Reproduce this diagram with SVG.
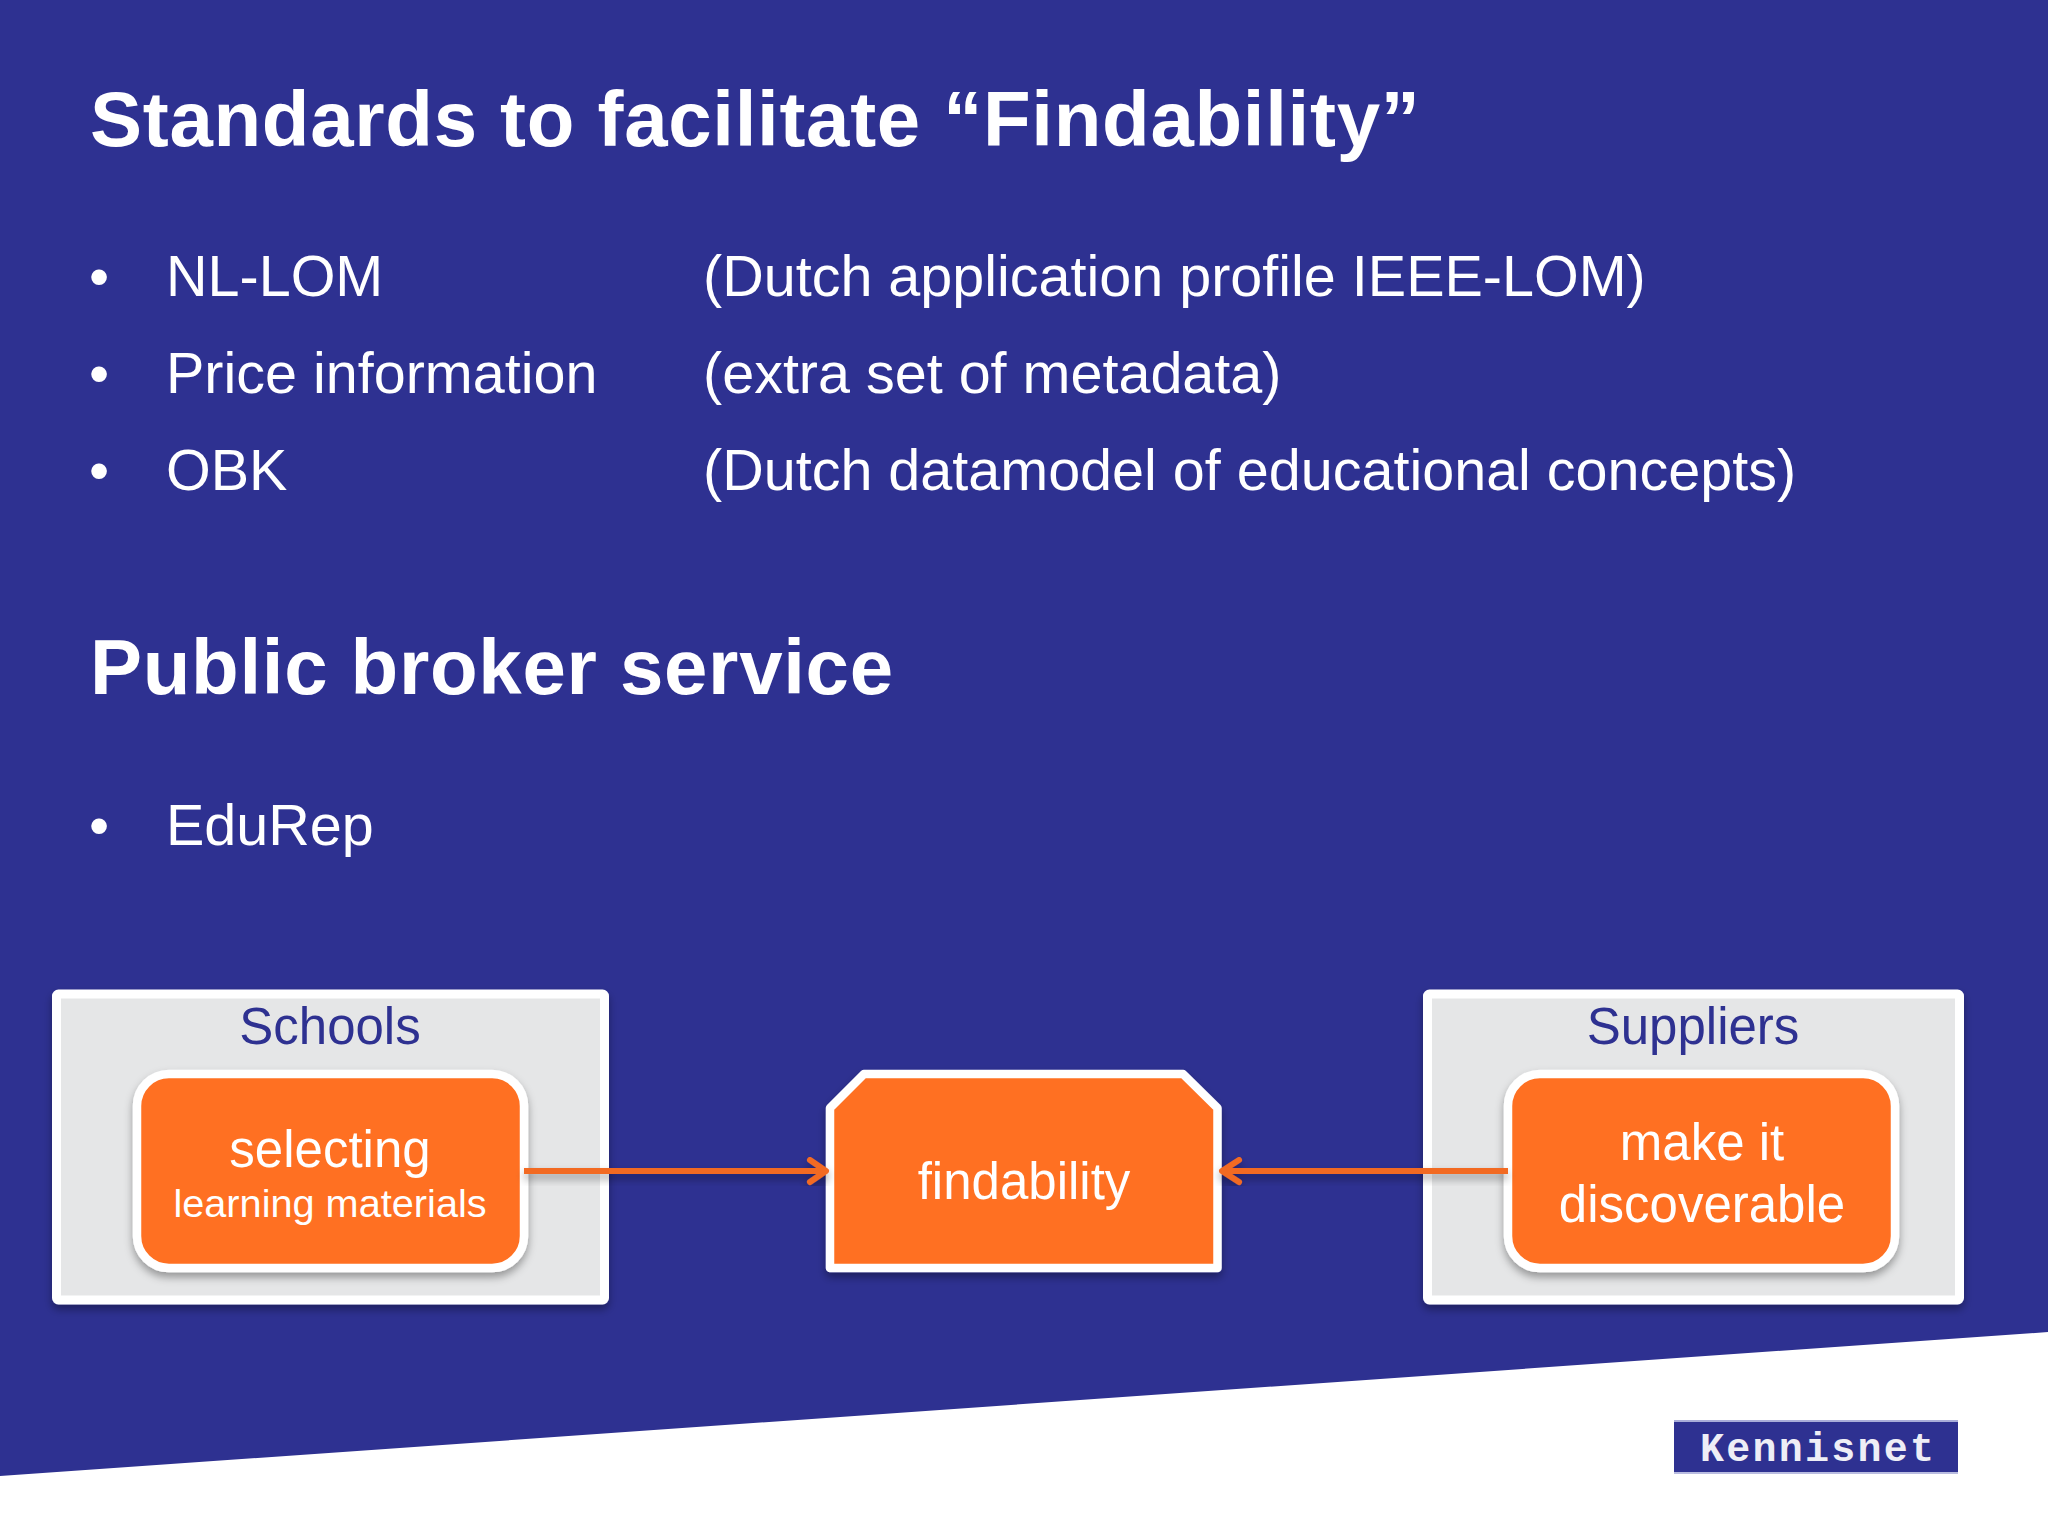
<svg xmlns="http://www.w3.org/2000/svg" width="2048" height="1536" viewBox="0 0 2048 1536">
<style>
text{font-family:"Liberation Sans",Arial,sans-serif}
.h{font-size:78px;font-weight:700;fill:#fff;letter-spacing:.7px}
.b{font-size:57.500px;fill:#fff}
.blue{font-size:51px;fill:#2e3191;text-anchor:middle}
.w{font-size:51px;fill:#fff;text-anchor:middle}
.panel{fill:#e5e6e7;stroke:#fff;stroke-width:9}
.card{fill:#ff7021;stroke:#fff;stroke-width:8.5}
.conn{stroke:#f26a24;stroke-width:6;fill:none}
.head{stroke:#f26a24;stroke-width:6;fill:none;stroke-linecap:round;stroke-linejoin:round}
</style>
<defs>
<filter id="sh" x="-10%" y="-10%" width="120%" height="125%"><feDropShadow dx="0" dy="5" stdDeviation="4" flood-color="#000" flood-opacity="0.35"/></filter>
</defs>
<rect id="background" width="2048" height="1536" fill="#2e3191"/>
<polygon id="wedge" points="0,1476 2048,1332 2048,1536 0,1536" fill="#fff"/>
<g id="heading1"><text class="h" x="90" y="145.500">Standards to facilitate “Findability”</text></g>
<g id="bullets1">
<text class="b" x="89" y="296">•</text><text class="b" x="166" y="296">NL-LOM</text><text class="b" x="703" y="296">(Dutch application profile IEEE-LOM)</text>
<text class="b" x="89" y="393">•</text><text class="b" x="166" y="393">Price information</text><text class="b" x="703" y="393">(extra set of metadata)</text>
<text class="b" x="89" y="490">•</text><text class="b" x="166" y="490">OBK</text><text class="b" x="703" y="490">(Dutch datamodel of educational concepts)</text>
</g>
<g id="heading2"><text class="h" x="90" y="694">Public broker service</text></g>
<g id="bullets2"><text class="b" x="89" y="845">•</text><text class="b" x="166" y="845">EduRep</text></g>
<g id="schools">
<rect class="panel" x="56.500" y="994" width="548" height="306" rx="2" filter="url(#sh)"/>
<text class="blue" x="330" y="1044">Schools</text>
</g>
<g id="suppliers">
<rect class="panel" x="1427.500" y="994" width="532" height="306" rx="2" filter="url(#sh)"/>
<text class="blue" x="1693" y="1044">Suppliers</text>
</g>
<g id="selecting">
<rect class="card" x="137" y="1074" width="387" height="194" rx="32" filter="url(#sh)"/>
<text class="w" x="330" y="1167">selecting</text>
<text class="w" x="330" y="1217" style="font-size:39.700px">learning materials</text>
</g>
<g id="findability">
<polygon class="card" points="864,1074 1183,1074 1217.500,1108 1217.500,1268 830,1268 830,1108" filter="url(#sh)" stroke-linejoin="round"/>
<text class="w" x="1024" y="1199">findability</text>
</g>
<g id="discoverable">
<rect class="card" x="1508" y="1074" width="387" height="194" rx="32" filter="url(#sh)"/>
<text class="w" x="1702" y="1160">make it</text>
<text class="w" x="1702" y="1222">discoverable</text>
</g>
<g id="connectors" filter="url(#sh)">
<line class="conn" x1="524" y1="1171" x2="825" y2="1171"/>
<polyline class="head" points="810,1160 826,1171 810,1182"/>
<line class="conn" x1="1508" y1="1171" x2="1223" y2="1171"/>
<polyline class="head" points="1239,1160 1222,1171 1239,1182"/>
</g>
<g id="logo">
<rect x="1674" y="1420" width="284" height="54" fill="#2e3191"/>
<rect x="1674" y="1420" width="284" height="2" fill="#a9add9"/>
<rect x="1674" y="1472" width="284" height="2" fill="#b9bce0"/>
<text x="1700" y="1461" textLength="234" lengthAdjust="spacing" style="font-family:'Liberation Mono',monospace;font-size:40px;font-weight:700;fill:#eeeef6">Kennisnet</text>
</g>
</svg>
